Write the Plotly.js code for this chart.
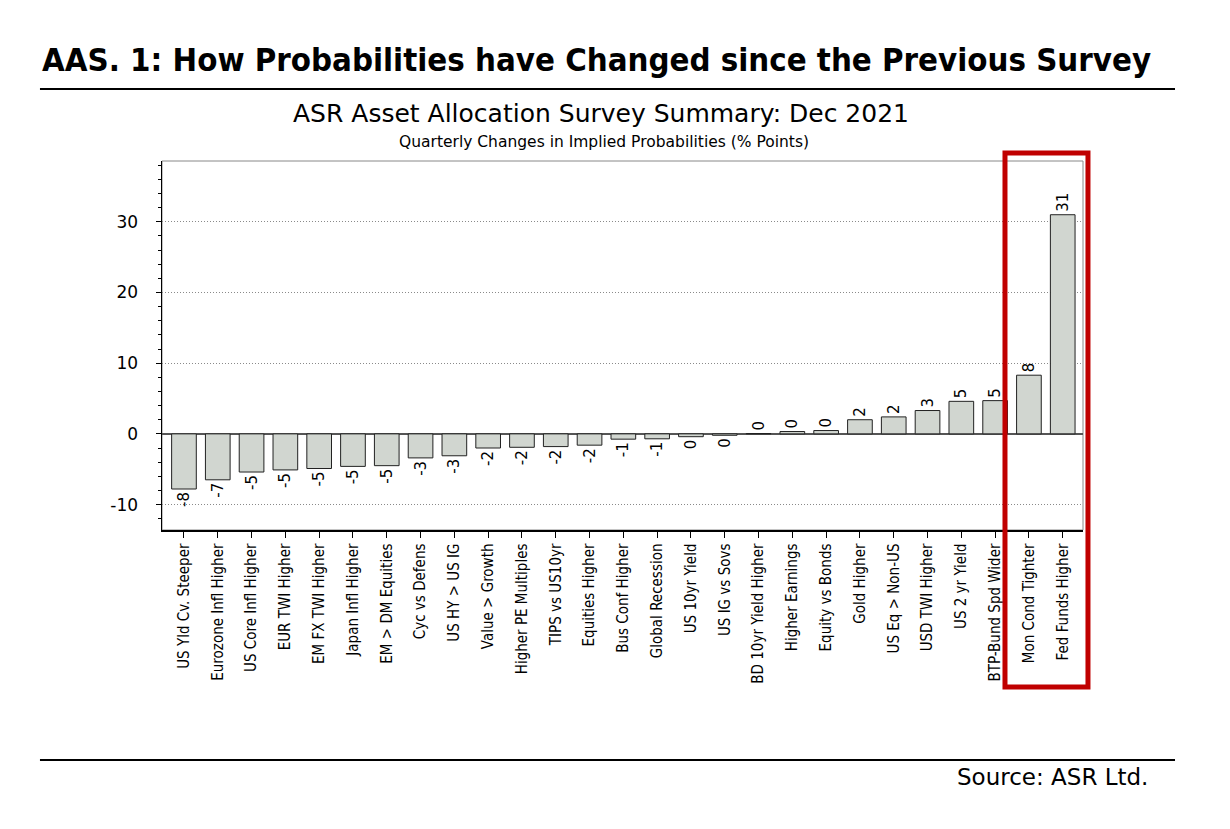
<!DOCTYPE html>
<html>
<head>
<meta charset="utf-8">
<script src="https://cdn.plot.ly/plotly-3.0.1.min.js"></script>
<style>html,body{margin:0;padding:0;background:#fff;}#chart{width:1230px;height:829px;}</style>
</head>
<body>
<div id="chart"></div>
<script>
const categories = ["US Yld Cv. Steeper","Eurozone Infl Higher","US Core Infl Higher","EUR TWI Higher","EM FX TWI Higher","Japan Infl Higher","EM > DM Equities","Cyc vs Defens","US HY > US IG","Value > Growth","Higher PE Multiples","TIPS vs US10yr","Equities Higher","Bus Conf Higher","Global Recession","US 10yr Yield","US IG vs Sovs","BD 10yr Yield Higher","Higher Earnings","Equity vs Bonds","Gold Higher","US Eq > Non-US","USD TWI Higher","US 2 yr Yield","BTP-Bund Spd Wider","Mon Cond Tighter","Fed Funds Higher"];
const changes = [-7.8,-6.5,-5.4,-5.1,-4.9,-4.6,-4.5,-3.4,-3.1,-2.0,-1.9,-1.8,-1.6,-0.75,-0.7,-0.4,-0.2,0.05,0.33,0.47,2.0,2.4,3.3,4.6,4.7,8.3,31.0];
const valueLabels = ["-8","-7","-5","-5","-5","-5","-5","-3","-3","-2","-2","-2","-2","-1","-1","0","0","0","0","0","2","2","3","5","5","8","31"];
const yTickVals = [-10,0,10,20,30];

const COND = "DejaVu Sans Condensed, DejaVu Sans, sans-serif";
const SANS = "DejaVu Sans, sans-serif";

const trace = {
  type: 'bar',
  x: categories,
  y: changes,
  text: valueLabels,
  textposition: 'outside',
  textangle: -90,
  constraintext: 'none',
  cliponaxis: false,
  textfont: {family: SANS, size: 15, color: '#000'},
  marker: {color: '#d1d6d0', line: {color: '#222', width: 1}},
  width: 0.73,
  hoverinfo: 'x+y'
};

const layout = {
  width: 1230, height: 829,
  margin: {l: 162, r: 147, t: 161, b: 299},
  paper_bgcolor: '#fff', plot_bgcolor: '#fff',
  showlegend: false,
  xaxis: {
    type: 'category',
    range: [-0.65, 26.6],
    tickangle: -90,
    ticks: 'outside', ticklen: 6, tickcolor: '#000',
    showline: true, linecolor: '#000', linewidth: 1.5,
    showgrid: false,
    tickfont: {family: COND, size: 15, color: '#000'},
    fixedrange: true
  },
  yaxis: {
    range: [-13.6, 38.6],
    tickvals: yTickVals,
    ticktext: yTickVals.map(String),
    ticks: 'outside', ticklen: 5, tickcolor: '#000',
    ticklabelstandoff: 14,
    minor: {dtick: 2, ticks: 'outside', ticklen: 3, tickcolor: '#000', showgrid: false},
    showline: true, linecolor: '#000', linewidth: 1.5,
    showgrid: true, gridcolor: '#8a8a8a', griddash: '1px,2px', gridwidth: 1,
    zeroline: true, zerolinecolor: '#555', zerolinewidth: 1.5,
    tickfont: {family: SANS, size: 17, color: '#000'},
    fixedrange: true
  },
  shapes: [
    {type: 'rect', xref: 'paper', yref: 'paper', x0: 0, x1: 1, y0: 0, y1: 1, line: {color: '#888', width: 1}, layer: 'below'},
    {type: 'line', xref: 'paper', yref: 'paper', x0: -0.1325, x1: 1.0999, y0: 1.195, y1: 1.195, line: {color: '#000', width: 2}},
    {type: 'line', xref: 'paper', yref: 'paper', x0: -0.1325, x1: 1.0999, y0: -0.6233, y1: -0.6233, line: {color: '#000', width: 2}},
    {type: 'rect', xref: 'paper', yref: 'paper', x0: 0.9153, x1: 1.0054, y0: -0.4255, y1: 1.0217, line: {color: '#c00000', width: 5}}
  ],
  annotations: [
    {text: '<b>AAS. 1: How Probabilities have Changed since the Previous Survey</b>', xref: 'paper', yref: 'paper', x: -0.1325, y: 1.2737, xanchor: 'left', yanchor: 'middle', showarrow: false, font: {family: COND, size: 32.7, color: '#000'}},
    {text: 'ASR Asset Allocation Survey Summary: Dec 2021', xref: 'paper', yref: 'paper', x: 0.4767, y: 1.130, xanchor: 'center', yanchor: 'middle', showarrow: false, font: {family: SANS, size: 25, color: '#000'}},
    {text: 'Quarterly Changes in Implied Probabilities (% Points)', xref: 'paper', yref: 'paper', x: 0.4795, y: 1.0515, xanchor: 'center', yanchor: 'middle', showarrow: false, font: {family: SANS, size: 15.5, color: '#000'}},
    {text: 'Source: ASR Ltd.', xref: 'paper', yref: 'paper', x: 1.0727, y: -0.669, xanchor: 'right', yanchor: 'middle', showarrow: false, font: {family: SANS, size: 23, color: '#000'}}
  ]
};

Plotly.newPlot('chart', [trace], layout, {displayModeBar: false, staticPlot: true});
</script>
</body>
</html>
